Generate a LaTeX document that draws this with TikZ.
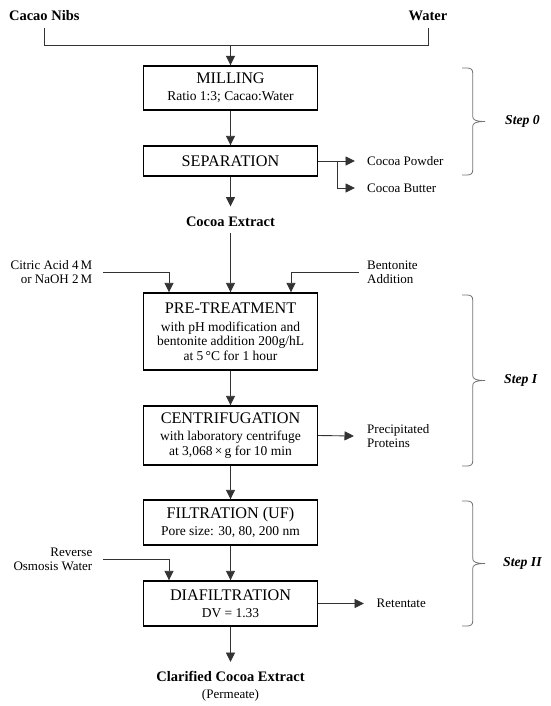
\documentclass[tikz,border=0pt]{standalone}
\usepackage{fontspec}
\setmainfont{Liberation Serif}
\usetikzlibrary{arrows.meta,calc}
\newcommand{\boxtitle}[1]{{\fontsize{16.2}{18}\selectfont #1}}
% step brace drawn as a plain shape: #1 = top y, #2 = bottom y (pixels, downwards)
\newcommand{\stepbrace}[2]{%
  \draw[brc] (462,-#1) -- (467,-#1) .. controls (471,-#1) and (472.7,-#1-1.5) .. (472.7,-#1-5)
    -- (472.7,{-(#1+#2)/2+5}) .. controls (472.7,{-(#1+#2)/2+1.5}) and (476,{-(#1+#2)/2}) .. (485,{-(#1+#2)/2})
    .. controls (476,{-(#1+#2)/2}) and (472.7,{-(#1+#2)/2-1.5}) .. (472.7,{-(#1+#2)/2-5})
    -- (472.7,-#2+5) .. controls (472.7,-#2+1.5) and (471,-#2) .. (467,-#2) -- (462,-#2);}
\begin{document}
\begin{tikzpicture}[x=1pt,y=1pt,
  conn/.style={line width=0.9pt, draw=black!80},
  arr/.style={conn, -{Triangle[length=9.5pt,width=9pt]}},
  box/.style={draw=black, line width=1.4pt, minimum width=174pt, inner sep=0pt, align=center,
    font=\fontsize{13.5}{14.5}\selectfont},
  boldlab/.style={font=\fontsize{14.5}{16}\selectfont\bfseries, inner sep=0pt, align=center},
  toplab/.style={boldlab, inner ysep=7pt},
  inlab/.style={font=\fontsize{13}{14}\selectfont, inner ysep=0pt},
  outlab/.style={font=\fontsize{13}{14}\selectfont, inner ysep=0pt, align=left},
  brc/.style={line width=0.8pt, draw=black!55},
  steplab/.style={font=\fontsize{13.7}{15}\selectfont\bfseries\itshape, inner sep=0pt}]
\useasboundingbox (0,0) rectangle (550,-706);
% inputs
\node[toplab, anchor=south] (nibs) at (44.3,-28) {Cacao Nibs};
\node[toplab, anchor=south] (water) at (428,-28) {Water};
\coordinate (jn) at (230.5,-45.5);
% process boxes
\node[box, minimum height=44pt] (mill) at (230.5,-88) {\boxtitle{MILLING}\\[2.5pt]Ratio 1:3; Cacao:Water};
\node[box, minimum height=30pt] (sep) at (230.5,-161) {\boxtitle{SEPARATION}};
\node[boldlab, inner ysep=6pt] (ext) at (230.5,-222) {Cocoa Extract};
\node[box, minimum height=77pt] (pre) at (230.5,-331.5) {\boxtitle{PRE-TREATMENT}\\[3.5pt]with pH modification and\\bentonite addition 200g/hL\\at 5\,°C for 1 hour};
\node[box, minimum height=59pt] (cen) at (230.5,-435.5) {\boxtitle{CENTRIFUGATION}\\[2.5pt]with laboratory centrifuge\\at 3,068\,×\,g for 10 min};
\node[box, minimum height=45pt] (fil) at (230.5,-522.5) {\boxtitle{FILTRATION (UF)}\\[2pt]Pore size: 30, 80, 200 nm};
\node[box, minimum height=45pt] (dia) at (230.5,-603.5) {\boxtitle{DIAFILTRATION}\\[2.5pt]DV = 1.33};
\node[boldlab, anchor=north] (clar) at (230.5,-671) {Clarified Cocoa Extract\\[1pt]{\fontsize{13}{14}\selectfont\mdseries (Permeate)}};
% side inputs
\node[inlab, anchor=east, align=right, inner xsep=10pt] (cit) at (102.5,-272) {Citric Acid 4\,M\\or NaOH 2\,M};
\node[inlab, anchor=west, align=left, inner xsep=8.5pt] (ben) at (358.5,-272) {Bentonite\\Addition};
\node[inlab, anchor=east, align=right, inner xsep=10pt] (ro) at (102.5,-559) {Reverse\\Osmosis Water};
% outputs
\node[outlab, anchor=west, inner xsep=12pt] (pow) at (355,-161) {Cocoa Powder};
\node[outlab, anchor=west, inner xsep=12pt] (but) at (355,-188) {Cocoa Butter};
\coordinate (br) at (337,-161);
\node[outlab, anchor=west, inner xsep=13pt] (prec) at (354,-436) {Precipitated\\Proteins};
\node[outlab, anchor=west, inner xsep=12.5pt] (ret) at (364,-603.5) {Retentate};
% connectors
\draw[conn] (nibs.south) |- (jn) -| (water.south);
\draw[arr] (jn) -- (mill.north);
\draw[arr] (mill) -- (sep);
\draw[arr, shorten >=4.4pt] (sep) -- (ext);
\draw[arr] (ext) -- (pre);
\draw[arr] (cit.east) -| ([xshift=-61.5pt]pre.north);
\draw[arr] (ben.west) -| ([xshift=60.5pt]pre.north);
\draw[arr] (pre) -- (cen);
\draw[arr] (cen) -- (fil);
\draw[arr] (fil) -- (dia);
\draw[arr] (ro.east) -| ([xshift=-61.5pt]dia.north);
\draw[arr, shorten >=9pt] (dia) -- (clar);
\draw[arr] (sep.east) -- (pow.west);
\draw[arr] (br) |- (but.west);
\draw[arr] (cen.east) -- (prec.west);
\draw[arr] (dia.east) -- (ret.west);
% braces and step labels
\stepbrace{68}{175}
\stepbrace{295}{466}
\stepbrace{501}{626}
\node[steplab, anchor=west] (s0) at (505,-121.5) {Step 0};
\node[steplab, anchor=west] (s1) at (504,-380.5) {Step I};
\node[steplab, anchor=west] (s2) at (503,-563.5) {Step II};
\end{tikzpicture}
\end{document}
